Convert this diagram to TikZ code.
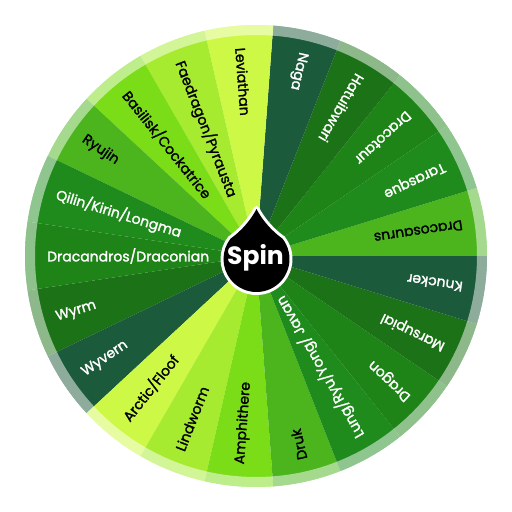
\documentclass[tikz,border=0pt]{standalone}
\usepackage{fontspec}
\setmainfont{Poppins}
\newfontfamily\wheelfont{Poppins}[FakeBold=1.6]
\definecolor{wheelA}{HTML}{1B5A3A}
\definecolor{wheelB}{HTML}{1C7216}
\definecolor{wheelC}{HTML}{1E8418}
\definecolor{wheelD}{HTML}{1F8B1D}
\definecolor{wheelE}{HTML}{4CB51E}
\definecolor{wheelF}{HTML}{7BDD17}
\definecolor{wheelG}{HTML}{A6EB2F}
\definecolor{wheelH}{HTML}{CDF846}
\tikzset{
  seglabel/.style={anchor=west, inner sep=0pt, font=\wheelfont\fontsize{14}{14}\selectfont},
  spinbutton/.style={fill=black, preaction={draw=white, line width=6pt, line join=round}}
}

\begin{document}
\begin{tikzpicture}[x=1pt, y=1pt]
\useasboundingbox (-256,-256) rectangle (256,256);
\foreach \i/\name/\col/\tc in {0/Dracosaurus/wheelE/black, 1/Tarasque/wheelD/white,
    2/Dracotaur/wheelC/white, 3/Hatuibwari/wheelB/white, 4/Naga/wheelA/white,
    5/Leviathan/wheelH/black, 6/{Faedragon/Pyrausta}/wheelG/black,
    7/{Basilisk/Cockatrice}/wheelF/black, 8/Ryujin/wheelE/black,
    9/{Qilin/Kirin/Longma}/wheelD/white, 10/{Dracandros/Draconian}/wheelC/white,
    11/Wyrm/wheelB/white, 12/Wyvern/wheelA/white, 13/{Arctic/Floof}/wheelH/black,
    14/Lindworm/wheelG/black, 15/Amphithere/wheelF/black, 16/Druk/wheelE/black,
    17/{Lung/Ryu/Yong/ Javan}/wheelD/white, 18/Dragon/wheelC/white,
    19/Marsupial/wheelB/white, 20/Knucker/wheelA/white} {
  \pgfmathsetmacro{\a}{\i*360/21}
  \pgfmathsetmacro{\b}{(\i+1)*360/21}
  \pgfmathsetmacro{\m}{(\i+0.5)*360/21}
  \fill[\col] (0,0) -- (\a:231pt) arc[start angle=\a, end angle=\b, radius=231pt] -- cycle;
  \node[seglabel, text=\tc, rotate=\m+180] (t\i) at (\m:209pt) {\name};
}
% light rim
\fill[white, fill opacity=0.5, even odd rule] (0,0) circle (231pt) (0,0) circle (221pt);

% spin button
\begin{scope}[shift={(0.5,-3)}]
\path[spinbutton] (38:33pt) arc[start angle=38, end angle=-218, radius=33pt]
  .. controls (-15,28) and (-5,40) .. (0,50)
  .. controls (5,40) and (15,28) .. (38:33pt) -- cycle;
\node[anchor=base, text=white, font=\fontsize{25}{25}\selectfont\bfseries] (spin) at (-1,-5.3) {Spin};
\end{scope}
\end{tikzpicture}
\end{document}
